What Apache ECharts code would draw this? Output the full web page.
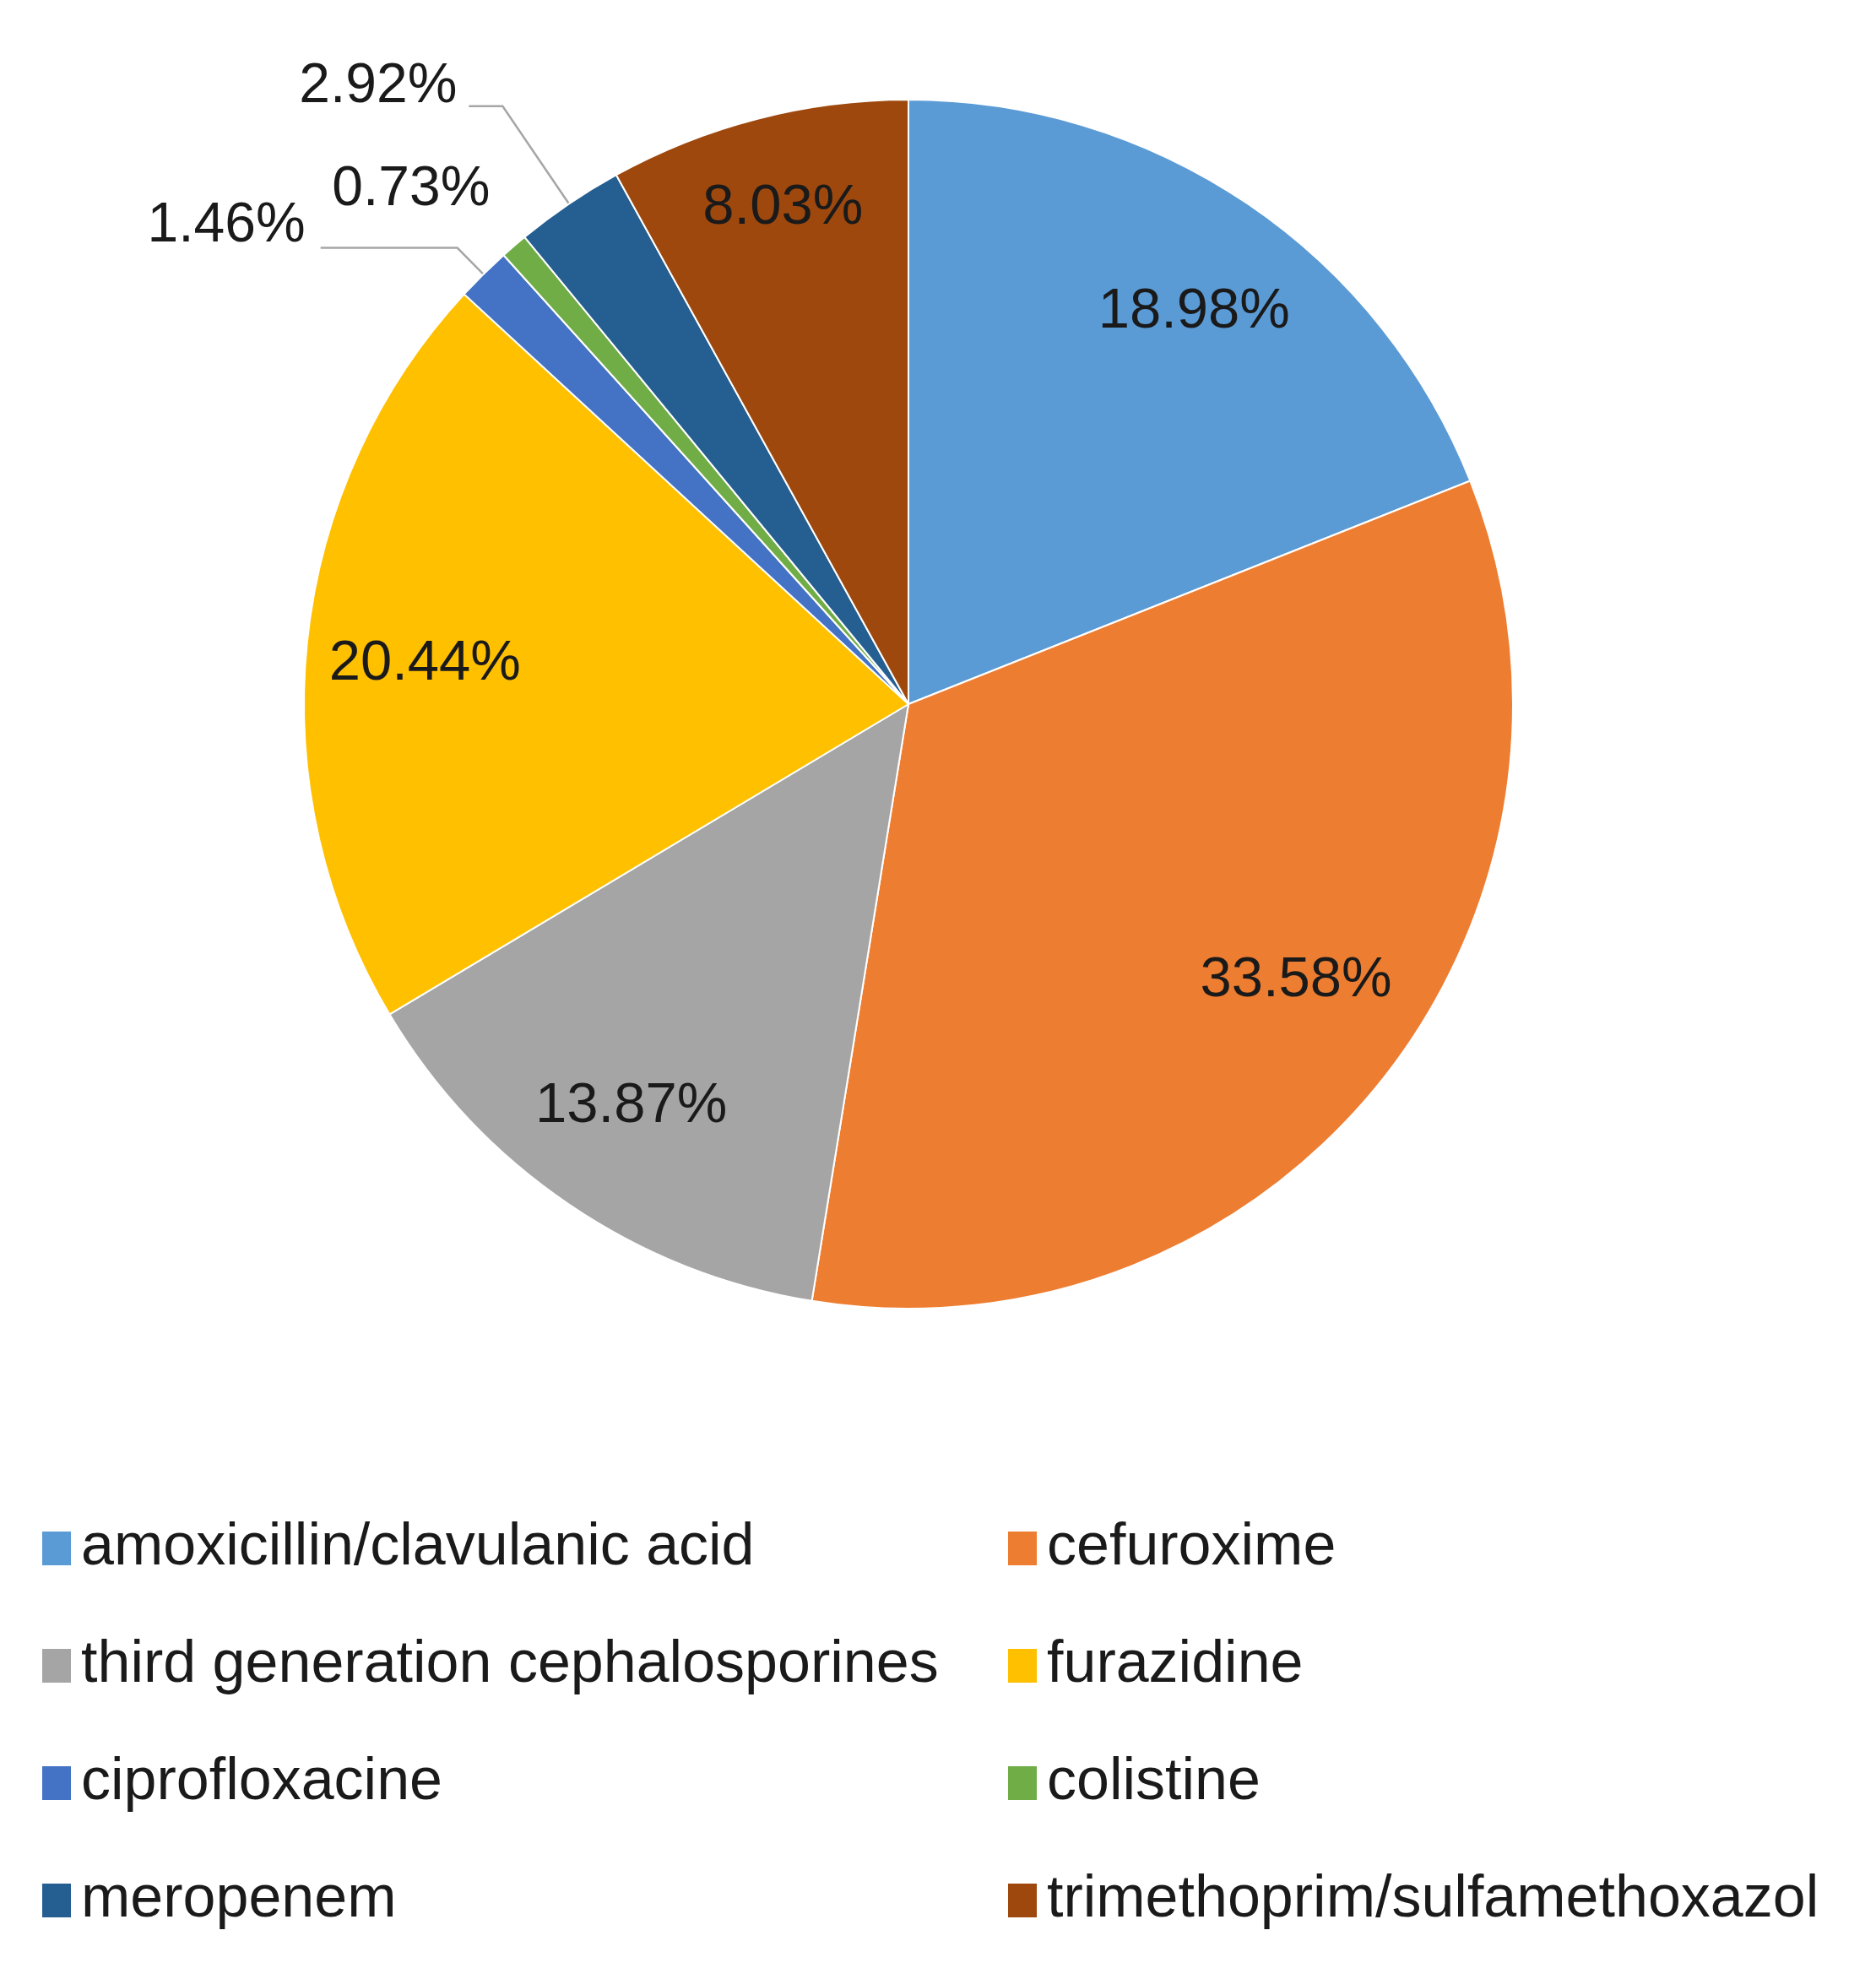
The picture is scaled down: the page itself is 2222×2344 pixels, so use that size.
<!DOCTYPE html>
<html>
<head>
<meta charset="utf-8">
<script src="https://cdn.jsdelivr.net/npm/echarts@6/dist/echarts.min.js"></script>
<style>
html,body{margin:0;padding:0;background:#fff;}
#chart{width:2222px;height:2344px;}
</style>
</head>
<body>
<div id="chart"></div>
<script>
// ---- data ----
const categories = [
  'amoxicillin/clavulanic acid',
  'cefuroxime',
  'third generation cephalosporines',
  'furazidine',
  'ciprofloxacine',
  'colistine',
  'meropenem',
  'trimethoprim/sulfamethoxazol'
];
const percentages = [18.98, 33.58, 13.87, 20.44, 1.46, 0.73, 2.92, 8.03];
const colors = ['#5B9BD5', '#ED7D31', '#A5A5A5', '#FFC000', '#4472C4', '#70AD47', '#255E91', '#9E480E'];
const legendLeftColumn = ['amoxicillin/clavulanic acid', 'third generation cephalosporines', 'ciprofloxacine', 'meropenem'];
const legendRightColumn = ['cefuroxime', 'furazidine', 'colistine', 'trimethoprim/sulfamethoxazol'];
// which slices get outside labels (small) vs inside labels
const outsideLabel = [false, false, false, false, true, true, true, false];

// ---- styling / layout ----
const CX = 1076, CY = 834, R = 716;
const labelFont = 'Liberation Sans';
const TXT = '{t|{c}%}';
// vertical nudges: spacer line below (text moves up) or above (text moves down)
function up(n) { return TXT + '\n{s' + n + '| }'; }
function down(n) { return '{s' + n + '| }\n' + TXT; }
const spacerSizes = [24, 46, 52, 60, 66];

const outsideStyles = {
  4: { len: 44, len2: 162, dist: 18, showLine: true, fmt: up(52) },
  5: { len: 88, len2: 0, dist: -29, showLine: false, fmt: TXT },
  6: { len: 140, len2: 40, dist: 14, showLine: true, fmt: up(46) }
};
const insideStyles = {
  0: { fmt: down(24), padding: [0, 0, 0, 30] },
  1: { fmt: up(66), padding: [0, 0, 0, 20] },
  2: { fmt: TXT, padding: [0, 10, 0, 0] },
  3: { fmt: down(24), padding: 0 },
  7: { fmt: up(60), padding: [0, 10, 0, 0] }
};

function richFor(size) {
  const rich = { t: { fontFamily: labelFont, fontSize: size, color: '#1a1a1a' } };
  spacerSizes.forEach(n => { rich['s' + n] = { fontSize: 1, lineHeight: n }; });
  return rich;
}

const mainData = categories.map((name, i) => {
  const item = { name: name, value: percentages[i], itemStyle: { color: colors[i] } };
  if (outsideLabel[i]) {
    const s = outsideStyles[i];
    item.label = { show: true, position: 'outside', distanceToLabelLine: s.dist, formatter: s.fmt };
    item.labelLine = { show: s.showLine, length: s.len, length2: s.len2 };
  } else {
    item.label = { show: false };
    item.labelLine = { show: false };
  }
  return item;
});

const overlayData = categories.map((name, i) => {
  const s = insideStyles[i];
  return {
    name: name,
    value: percentages[i],
    label: s ? { show: true, formatter: s.fmt, padding: s.padding } : { show: false }
  };
});

const chart = echarts.init(document.getElementById('chart'), null, { renderer: 'canvas' });

const legendCommon = {
  orient: 'vertical',
  icon: 'rect',
  itemWidth: 36,
  itemHeight: 42,
  itemGap: 69,
  top: 1794,
  textStyle: {
    fontFamily: labelFont,
    fontSize: 70,
    lineHeight: 69,
    color: '#1a1a1a',
    padding: [0, 0, 0, 6]
  },
  selectedMode: false
};

chart.setOption({
  backgroundColor: '#ffffff',
  animation: false,
  legend: [
    Object.assign({}, legendCommon, { left: 43, data: legendLeftColumn }),
    Object.assign({}, legendCommon, { left: 1187, data: legendRightColumn })
  ],
  series: [
    {
      name: 'share',
      type: 'pie',
      center: [CX, CY],
      radius: [0, R],
      startAngle: 90,
      clockwise: true,
      avoidLabelOverlap: false,
      itemStyle: { borderColor: '#ffffff', borderWidth: 2 },
      label: {
        formatter: TXT,
        rich: richFor(66)
      },
      labelLine: {
        lineStyle: { color: '#A6A6A6', width: 2.5 },
        smooth: false
      },
      emphasis: { disabled: true },
      data: mainData
    },
    {
      name: 'inside labels',
      type: 'pie',
      center: [CX, CY],
      radius: [R * 0.6, R],
      startAngle: 90,
      clockwise: true,
      silent: true,
      legendHoverLink: false,
      avoidLabelOverlap: false,
      itemStyle: { color: 'rgba(0,0,0,0)', borderWidth: 0 },
      label: {
        position: 'inside',
        formatter: TXT,
        rich: richFor(67)
      },
      labelLine: { show: false },
      emphasis: { disabled: true },
      data: overlayData
    }
  ]
});
</script>
</body>
</html>
